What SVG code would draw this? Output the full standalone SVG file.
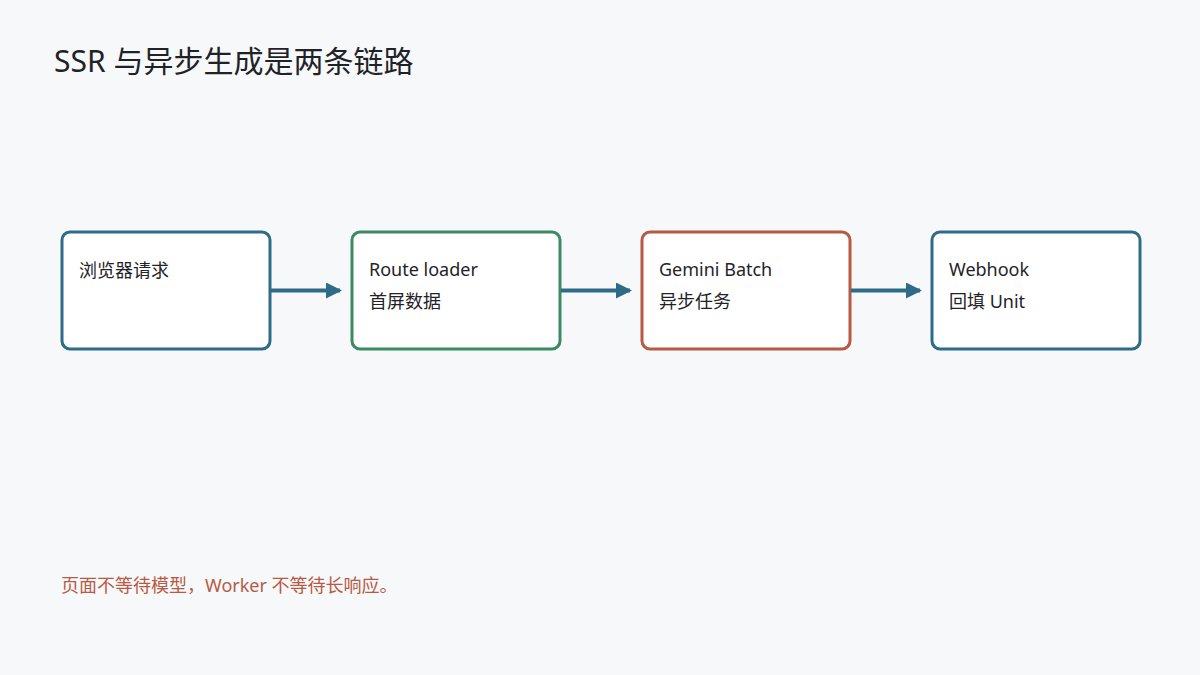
<svg xmlns="http://www.w3.org/2000/svg" width="1200" height="675" viewBox="0 0 1200 675">
<style>
text{font-family:"Noto Sans","Noto Sans CJK SC",sans-serif;fill:#1f2328}
.box{fill:#fff;stroke-width:3}
.lbl{font-size:18px}
.edge{stroke:#2e6b87;stroke-width:4;fill:none}
</style>
<defs><marker id="ah" markerWidth="4" markerHeight="4" refX="3.5" refY="2" orient="auto" markerUnits="strokeWidth"><path d="M0,0L4,2L0,4Z" fill="#2e6b87"/></marker></defs>
<rect width="1200" height="675" fill="#f6f8fa"/>
<text x="54" y="72" font-size="30">SSR 与异步生成是两条链路</text>
<g id="n1"><rect class="box" x="62" y="232" width="208" height="117" rx="8" stroke="#2e6b87"/><text class="lbl" x="79" y="277">浏览器请求</text></g>
<g id="n2"><rect class="box" x="352" y="232" width="208" height="117" rx="8" stroke="#3a8a64"/><text class="lbl" x="369" y="276">Route loader</text><text class="lbl" x="369" y="308">首屏数据</text></g>
<g id="n3"><rect class="box" x="642" y="232" width="208" height="117" rx="8" stroke="#b85a43"/><text class="lbl" x="659" y="276">Gemini Batch</text><text class="lbl" x="659" y="308">异步任务</text></g>
<g id="n4"><rect class="box" x="932" y="232" width="208" height="117" rx="8" stroke="#2e6b87"/><text class="lbl" x="949" y="276">Webhook</text><text class="lbl" x="949" y="308">回填 Unit</text></g>
<g id="edges">
<line class="edge" x1="271" y1="290.5" x2="340" y2="290.5" marker-end="url(#ah)"/>
<line class="edge" x1="561" y1="290.5" x2="630" y2="290.5" marker-end="url(#ah)"/>
<line class="edge" x1="851" y1="290.5" x2="920" y2="290.5" marker-end="url(#ah)"/>
</g>
<text x="61" y="592" font-size="18" style="fill:#b85a43">页面不等待模型，Worker 不等待长响应。</text>
</svg>
